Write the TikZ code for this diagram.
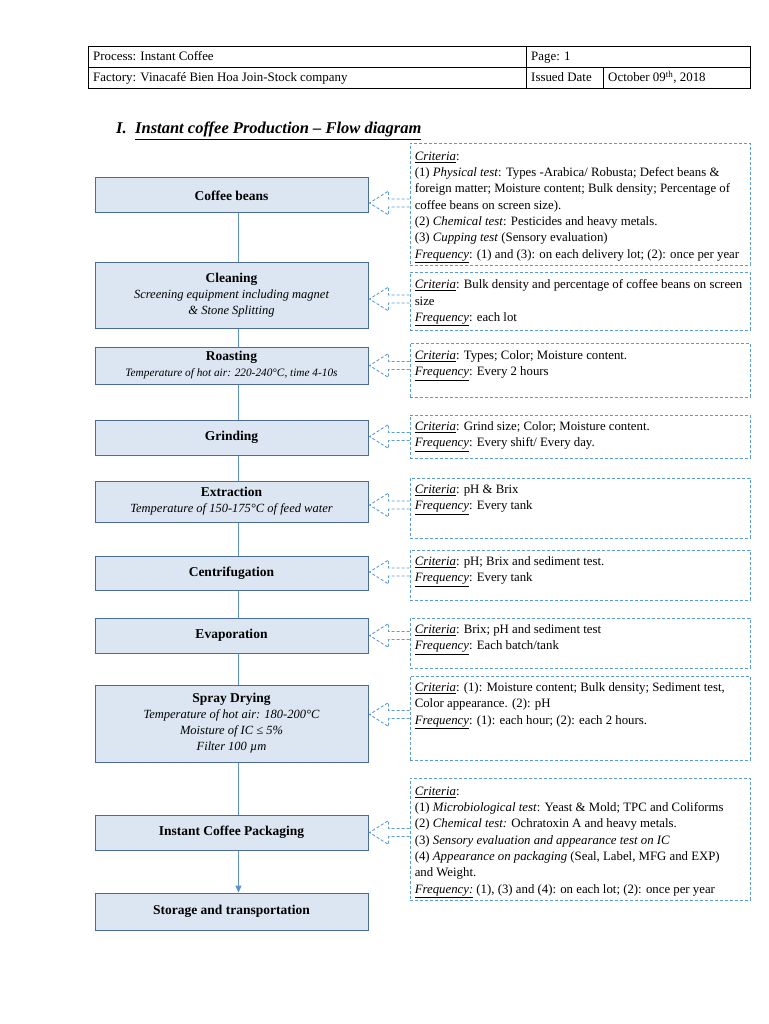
\documentclass[tikz,border=0pt]{standalone}
\usepackage{fontspec}
\setmainfont{Liberation Serif}
\usetikzlibrary{positioning,calc,arrows.meta}

\definecolor{boxfill}{HTML}{DCE6F2}
\definecolor{boxline}{HTML}{4A6E99}
\definecolor{dashblue}{HTML}{5B9BD5}
\definecolor{flowline}{HTML}{5B8FD0}

\newcommand{\ulit}[1]{\underline{\textit{#1}}}
\newcommand{\subline}[1]{{\fontsize{12.5}{16}\selectfont\mdseries\itshape #1}}

\begin{document}
\begin{tikzpicture}[x=1pt, y=-1pt,
    stepbox/.style={draw=boxline, fill=boxfill, line width=1pt, minimum width=273pt,
        align=center, inner sep=2pt, font=\fontsize{13.5}{16}\selectfont\bfseries},
    critbox/.style={draw=dashblue, dash pattern=on 3pt off 2pt, line width=0.9pt, minimum width=340pt},
    crittext/.style={anchor=north west, align=left, inner sep=0pt, font=\fontsize{12.8}{16.3}\selectfont},
    callout/.style={draw=dashblue, dash pattern=on 3pt off 2pt, line width=0.9pt},
    flow/.style={draw=flowline, line width=1pt},
    cell/.style={anchor=base west, inner sep=0pt, font=\fontsize{12.9}{15}\selectfont}]

    \useasboundingbox (0,0) rectangle (768,1024);

    % Header table
    \draw[line width=0.8pt] (88,46) rectangle (750,88);
    \draw[line width=0.8pt] (88,67) -- (750,67);
    \draw[line width=0.8pt] (526,46) -- (526,88);
    \draw[line width=0.8pt] (603,67) -- (603,88);
    \node[cell] (process) at (93,61) {Process: Instant Coffee};
    \node[cell] (page) at (531,61) {Page: 1};
    \node[cell] (factory) at (93,82) {Factory: Vinacafé Bien Hoa Join-Stock company};
    \node[cell] (issued) at (531,82) {Issued Date};
    \node[cell] (date) at (608,82) {October 09\textsuperscript{th}, 2018};

    % Title
    \node[anchor=base west, inner sep=0pt, font=\fontsize{16.5}{18}\selectfont\bfseries\itshape] (num) at (116,134) {I.};
    \node[anchor=base west, inner sep=0pt, font=\fontsize{16.5}{18}\selectfont\bfseries\itshape] (title) at (135,134) {\underline{Instant coffee Production -- Flow diagram}};

    % Process steps
    \node[stepbox, minimum height=35pt] (beans) at (231.5,195.5) {Coffee beans};
    \node[stepbox, minimum height=66pt] (cleaning) at (231.5,295) {Cleaning\\ \subline{Screening equipment including magnet}\\ \subline{\& Stone Splitting}};
    \node[stepbox, minimum height=37pt] (roasting) at (231.5,365.5) {Roasting\\ {\fontsize{11.3}{16}\selectfont\mdseries\itshape Temperature of hot air: 220-240°C, time 4-10s}};
    \node[stepbox, minimum height=35pt] (grinding) at (231.5,437.5) {Grinding};
    \node[stepbox, minimum height=41pt] (extraction) at (231.5,501.5) {Extraction\\ \subline{Temperature of 150-175°C of feed water}};
    \node[stepbox, minimum height=34pt] (centri) at (231.5,573) {Centrifugation};
    \node[stepbox, minimum height=35pt] (evap) at (231.5,635.5) {Evaporation};
    \node[stepbox, minimum height=77pt] (spray) at (231.5,723.5) {Spray Drying\\ \subline{Temperature of hot air: 180-200°C}\\ \subline{Moisture of IC ≤ 5\%}\\ \subline{Filter 100 µm}};
    \node[stepbox, minimum height=35pt] (pack) at (231.5,832.5) {Instant Coffee Packaging};
    \node[stepbox, minimum height=37pt] (storage) at (231.5,911.5) {Storage and transportation};

    % Flow lines
    \foreach \a/\b in {beans/cleaning, cleaning/roasting, roasting/grinding, grinding/extraction,
        extraction/centri, centri/evap, evap/spray, spray/pack} {
        \draw[flow] ([xshift=7pt]\a.south) -- ([xshift=7pt]\b.north);
    }
    \draw[flow, -{Triangle[length=7pt,width=6pt]}] ([xshift=7pt]pack.south) -- ([xshift=7pt]storage.north);

    % Criteria boxes
    \node[critbox, minimum height=122pt] (c1) at (580,204) {};
    \node[critbox, minimum height=58pt] (c2) at (580,301) {};
    \node[critbox, minimum height=54pt] (c3) at (580,370) {};
    \node[critbox, minimum height=43pt] (c4) at (580,436.5) {};
    \node[critbox, minimum height=60pt] (c5) at (580,508) {};
    \node[critbox, minimum height=50pt] (c6) at (580,575) {};
    \node[critbox, minimum height=50pt] (c7) at (580,643) {};
    \node[critbox, minimum height=84pt] (c8) at (580,718) {};
    \node[critbox, minimum height=122pt] (c9) at (580,839) {};

    % Criteria texts
    \node[crittext] (t1) at ([xshift=5pt,yshift=-9pt]c1.north west) {\ulit{Criteria}:\\
        (1) \textit{Physical test}: Types -Arabica/ Robusta; Defect beans \&\\
        foreign matter; Moisture content; Bulk density; Percentage of\\
        coffee beans on screen size).\\
        (2) \textit{Chemical test}: Pesticides and heavy metals.\\
        (3) \textit{Cupping test} (Sensory evaluation)\\
        \ulit{Frequency}: (1) and (3): on each delivery lot; (2): once per year};
    \node[crittext] (t2) at ([xshift=5pt,yshift=-8pt]c2.north west) {\ulit{Criteria}: Bulk density and percentage of coffee beans on screen\\
        size\\
        \ulit{Frequency}: each lot};
    \node[crittext] (t3) at ([xshift=5pt,yshift=-8pt]c3.north west) {\ulit{Criteria}: Types; Color; Moisture content.\\
        \ulit{Frequency}: Every 2 hours};
    \node[crittext] (t4) at ([xshift=5pt,yshift=-7pt]c4.north west) {\ulit{Criteria}: Grind size; Color; Moisture content.\\
        \ulit{Frequency}: Every shift/ Every day.};
    \node[crittext] (t5) at ([xshift=5pt,yshift=-7pt]c5.north west) {\ulit{Criteria}: pH \& Brix\\
        \ulit{Frequency}: Every tank};
    \node[crittext] (t6) at ([xshift=5pt,yshift=-7pt]c6.north west) {\ulit{Criteria}: pH; Brix and sediment test.\\
        \ulit{Frequency}: Every tank};
    \node[crittext] (t7) at ([xshift=5pt,yshift=-7pt]c7.north west) {\ulit{Criteria}: Brix; pH and sediment test\\
        \ulit{Frequency}: Each batch/tank};
    \node[crittext] (t8) at ([xshift=5pt,yshift=-7pt]c8.north west) {\ulit{Criteria}: (1): Moisture content; Bulk density; Sediment test,\\
        Color appearance. (2): pH\\
        \ulit{Frequency}: (1): each hour; (2): each 2 hours.};
    \node[crittext] (t9) at ([xshift=5pt,yshift=-9pt]c9.north west) {\ulit{Criteria}:\\
        (1) \textit{Microbiological test}: Yeast \& Mold; TPC and Coliforms\\
        (2) \textit{Chemical test:} Ochratoxin A and heavy metals.\\
        (3) \textit{Sensory evaluation and appearance test on IC}\\
        (4) \textit{Appearance on packaging} (Seal, Label, MFG and EXP)\\
        and Weight.\\
        \ulit{Frequency:} (1), (3) and (4): on each lot; (2): once per year};

    % Callout arrows from criteria to steps
    \foreach \s/\c/\dy in {beans/c1/7.5, cleaning/c2/4, roasting/c3/0, grinding/c4/-1, extraction/c5/3.5,
        centri/c6/-1, evap/c7/0, spray/c8/-9, pack/c9/0} {
        \coordinate (tip) at ($(\s.east)+(1,\dy)$);
        \coordinate (base) at (tip -| \c.west);
        \draw[callout] ($(base)+(0,-4)$) -- ($(tip)+(19,-4)$) -- ($(tip)+(19,-12)$) -- (tip)
            -- ($(tip)+(19,12)$) -- ($(tip)+(19,4)$) -- ($(base)+(0,4)$);
    }
\end{tikzpicture}
\end{document}
